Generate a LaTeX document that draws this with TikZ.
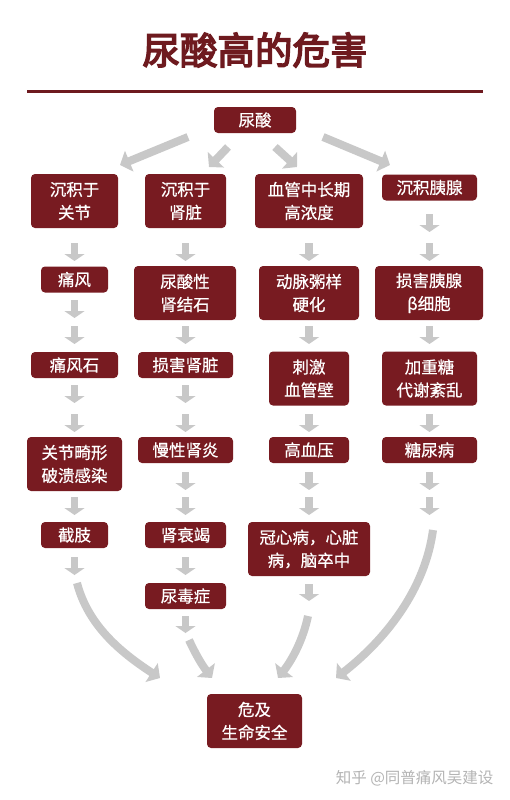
\documentclass[tikz,border=0pt]{standalone}
\usepackage{fontspec}
\setmainfont{Noto Sans CJK SC}
\newfontfamily\cjkbf{Noto Sans CJK SC}[FakeBold=4]
\newfontfamily\cjkmed{Noto Sans CJK SC}[FakeBold=0.6]
\usetikzlibrary{arrows.meta}
\definecolor{boxred}{HTML}{781B21}
\definecolor{titlered}{HTML}{6E1A1F}
\definecolor{agray}{HTML}{C8C8C8}
\definecolor{wmgray}{HTML}{B4B4B4}
\tikzset{
  box/.style={fill=boxred, rounded corners=4pt, text=white, inner sep=0pt,
    align=center, font=\cjkmed\fontsize{16.5}{23}\selectfont, minimum height=26pt},
  tall/.style={minimum height=54pt},
  sarr/.style={draw=agray, line width=7.5pt, -{Triangle[width=20pt,length=7pt]}},
  barr/.style={draw=agray, line width=8pt, -{Triangle[width=22pt,length=10pt]}},
}
\begin{document}
\begin{tikzpicture}[x=1pt,y=-1pt]
\useasboundingbox (0,0) rectangle (510,800);
\fill[white] (0,0) rectangle (510,800);
\node[text=titlered, font=\cjkbf\fontsize{37.5}{40}\selectfont] (title) at (255,50) {尿酸高的危害};
\coordinate (l1) at (27,91);
\coordinate (l2) at (483,91);
\draw[titlered, line width=3pt] (l1) -- (l2);

\node[box, minimum width=82pt] (ns) at (255,120) {尿酸};

% row 1
\node[box, tall, minimum width=87pt] (a1) at (74.5,201) {沉积于\\关节};
\node[box, tall, minimum width=81pt] (b1) at (185.5,201) {沉积于\\肾脏};
\node[box, tall, minimum width=108pt] (c1) at (309,201) {血管中长期\\高浓度};
\node[box, minimum width=95pt] (d1) at (429.5,187.5) {沉积胰腺};
% row 2
\node[box, minimum width=67pt] (a2) at (74.5,279.5) {痛风};
\node[box, tall, minimum width=102pt] (b2) at (185,293) {尿酸性\\肾结石};
\node[box, tall, minimum width=100pt] (c2) at (309,293) {动脉粥样\\硬化};
\node[box, tall, minimum width=108pt] (d2) at (429,293) {损害胰腺\\β细胞};
% row 3
\node[box, minimum width=87pt] (a3) at (74.5,365) {痛风石};
\node[box, minimum width=95pt] (b3) at (185.5,365) {损害肾脏};
\node[box, tall, minimum width=80pt] (c3) at (309,378.5) {刺激\\血管壁};
\node[box, tall, minimum width=95pt] (d3) at (429.5,378.5) {加重糖\\代谢紊乱};
% row 4
\node[box, tall, minimum width=95pt] (a4) at (74.5,464) {关节畸形\\破溃感染};
\node[box, minimum width=95pt] (b4) at (185.5,450) {慢性肾炎};
\node[box, minimum width=80pt] (c4) at (309,450) {高血压};
\node[box, minimum width=95pt] (d4) at (429.5,450) {糖尿病};
% row 5
\node[box, minimum width=67pt] (a5) at (74.5,535) {截肢};
\node[box, minimum width=81pt] (b5) at (185.5,535) {肾衰竭};
\node[box, tall, minimum width=122pt] (c5) at (309,549) {冠心病，心脏\\病，脑卒中};
\node[box, minimum width=81pt] (b6) at (185.5,596) {尿毒症};
% end
\node[box, tall, minimum width=95pt] (end) at (254.5,721) {危及\\生命安全};

% top diagonal arrows
\draw[barr] (188,137) -- (120,165);
\draw[barr] (228,147) -- (209,167);
\draw[barr] (275,147) -- (297,167);
\draw[barr] (323,137) -- (390,165);

% column 1 small arrows
\draw[sarr] (74.5,243) -- (74.5,261);
\draw[sarr] (74.5,300) -- (74.5,318);
\draw[sarr] (74.5,326) -- (74.5,344);
\draw[sarr] (74.5,385) -- (74.5,403);
\draw[sarr] (74.5,414) -- (74.5,432);
\draw[sarr] (74.5,497) -- (74.5,515);
\draw[sarr] (74.5,557) -- (74.5,575);
% column 2
\draw[sarr] (185.5,243) -- (185.5,261);
\draw[sarr] (185.5,326) -- (185.5,344);
\draw[sarr] (185.5,385) -- (185.5,403);
\draw[sarr] (185.5,414) -- (185.5,432);
\draw[sarr] (185.5,472) -- (185.5,490);
\draw[sarr] (185.5,497) -- (185.5,515);
\draw[sarr] (185.5,557) -- (185.5,575);
\draw[sarr] (185.5,616) -- (185.5,633);
% column 3
\draw[sarr] (309,243) -- (309,261);
\draw[sarr] (309,326) -- (309,344);
\draw[sarr] (309,414) -- (309,432);
\draw[sarr] (309,472) -- (309,490);
\draw[sarr] (309,497) -- (309,515);
\draw[sarr] (309,584) -- (309,601);
% column 4
\draw[sarr] (429.5,214) -- (429.5,232);
\draw[sarr] (429.5,243) -- (429.5,261);
\draw[sarr] (429.5,326) -- (429.5,344);
\draw[sarr] (429.5,414) -- (429.5,432);
\draw[sarr] (429.5,472) -- (429.5,490);
\draw[sarr] (429.5,497) -- (429.5,515);

% big curved arrows
\draw[barr] (77,583) .. controls (88,625) and (120,652) .. (160,678);
\draw[barr] (189,640) .. controls (196,655) and (202,665) .. (212,678);
\draw[barr] (308,616) .. controls (303,640) and (292,660) .. (278,678);
\draw[barr] (433,530) .. controls (425,590) and (385,640) .. (336,678);

\node[text=wmgray, font=\fontsize{15.5}{18}\selectfont, anchor=east] (wm) at (497,778) {知乎 @同普痛风吴建设};
\end{tikzpicture}
\end{document}
